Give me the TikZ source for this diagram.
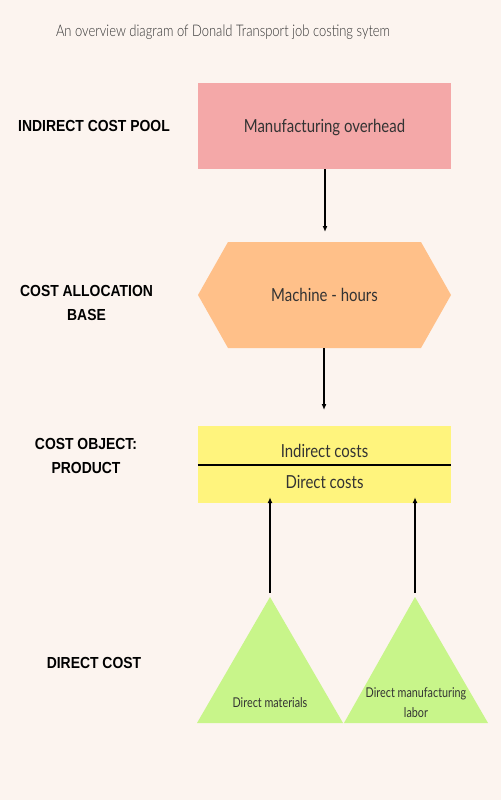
\documentclass[tikz,border=0pt]{standalone}
\usepackage{fontspec}
\setmainfont{Lato}
\newfontfamily\condfont[FakeStretch=0.83]{Lato}
\newfontfamily\smallfont[FakeStretch=0.8]{Lato}
\newfontfamily\titlefont[FakeStretch=0.81]{Lato Light}
\newfontfamily\headfont[FakeStretch=0.87]{Liberation Sans}
\usetikzlibrary{arrows.meta}
\definecolor{bg}{HTML}{FCF4EF}
\definecolor{pinkc}{HTML}{F4A8A8}
\definecolor{orangec}{HTML}{FFC089}
\definecolor{yellowc}{HTML}{FFF47D}
\definecolor{greenc}{HTML}{C8F58A}
\definecolor{txt}{HTML}{333333}
\tikzset{
  headlbl/.style={font=\headfont\bfseries\fontsize{16}{23.5}\selectfont, align=center, text=black},
  boxtxt/.style={font=\condfont\fontsize{18}{21}\selectfont, text=txt},
  smalltxt/.style={font=\smallfont\fontsize{13.5}{20}\selectfont, text=txt, align=center},
  arr/.style={-{Latex[length=6pt,width=5pt]}, line width=1.4pt, black},
}
\begin{document}
\begin{tikzpicture}[x=1pt,y=-1pt]
\fill[bg] (0,0) rectangle (501,800);
\useasboundingbox (0,0) rectangle (501,800);
% title
\node[font=\titlefont\fontsize{16}{19}\selectfont, text=txt] (title) at (223,32) {An overview diagram of Donald Transport job costing sytem};
% left labels
\node[headlbl] (l1) at (94,126) {INDIRECT COST POOL};
\node[headlbl] (l2) at (86.5,303) {COST ALLOCATION\\BASE};
\node[headlbl] (l3) at (86,456) {COST OBJECT:\\PRODUCT};
\node[headlbl] (l4) at (94,663) {DIRECT COST};
% pool box
\node[fill=pinkc, minimum width=253pt, minimum height=86pt, inner sep=0pt] (pool) at (324.5,126) {};
\node[boxtxt] (poolt) at (324.5,128) {Manufacturing overhead};
% hexagon
\fill[orangec] (198,295) -- (228,242) -- (421,242) -- (451,295) -- (421,348) -- (228,348) -- cycle;
\node[minimum width=253pt, minimum height=106pt, inner sep=0pt, boxtxt] (hex) at (324.5,295) {Machine - hours};
% cost object
\node[fill=yellowc, minimum width=253pt, minimum height=77pt, inner sep=0pt] (obj) at (324.5,464.5) {};
\draw[line width=1.3pt, black] (obj.west |- 0,465) coordinate (dl) -- (obj.east |- 0,465) coordinate (dr);
\node[boxtxt] (ind) at (324.5,451) {Indirect costs};
\node[boxtxt] (dir) at (324.5,482) {Direct costs};
% triangles
\fill[greenc] (270,597) -- (343,723) -- (197,723) -- cycle;
\fill[greenc] (415,597) -- (488,723) -- (344,723) -- cycle;
\coordinate (t1) at (270,593);
\coordinate (t2) at (415,593);
\node[smalltxt] (dm) at (270,703) {Direct materials};
\node[smalltxt] (dl2) at (416,703) {Direct manufacturing\\labor};
% arrows
\coordinate (a1) at (325,232);
\coordinate (a2) at (324,410);
\draw[arr] (pool.south -| a1) -- (a1);
\draw[arr] (hex.south -| a2) -- (a2);
\draw[arr] (t1) -- ([yshift=6pt]obj.south -| t1);
\draw[arr] (t2) -- ([yshift=6pt]obj.south -| t2);
\end{tikzpicture}
\end{document}
